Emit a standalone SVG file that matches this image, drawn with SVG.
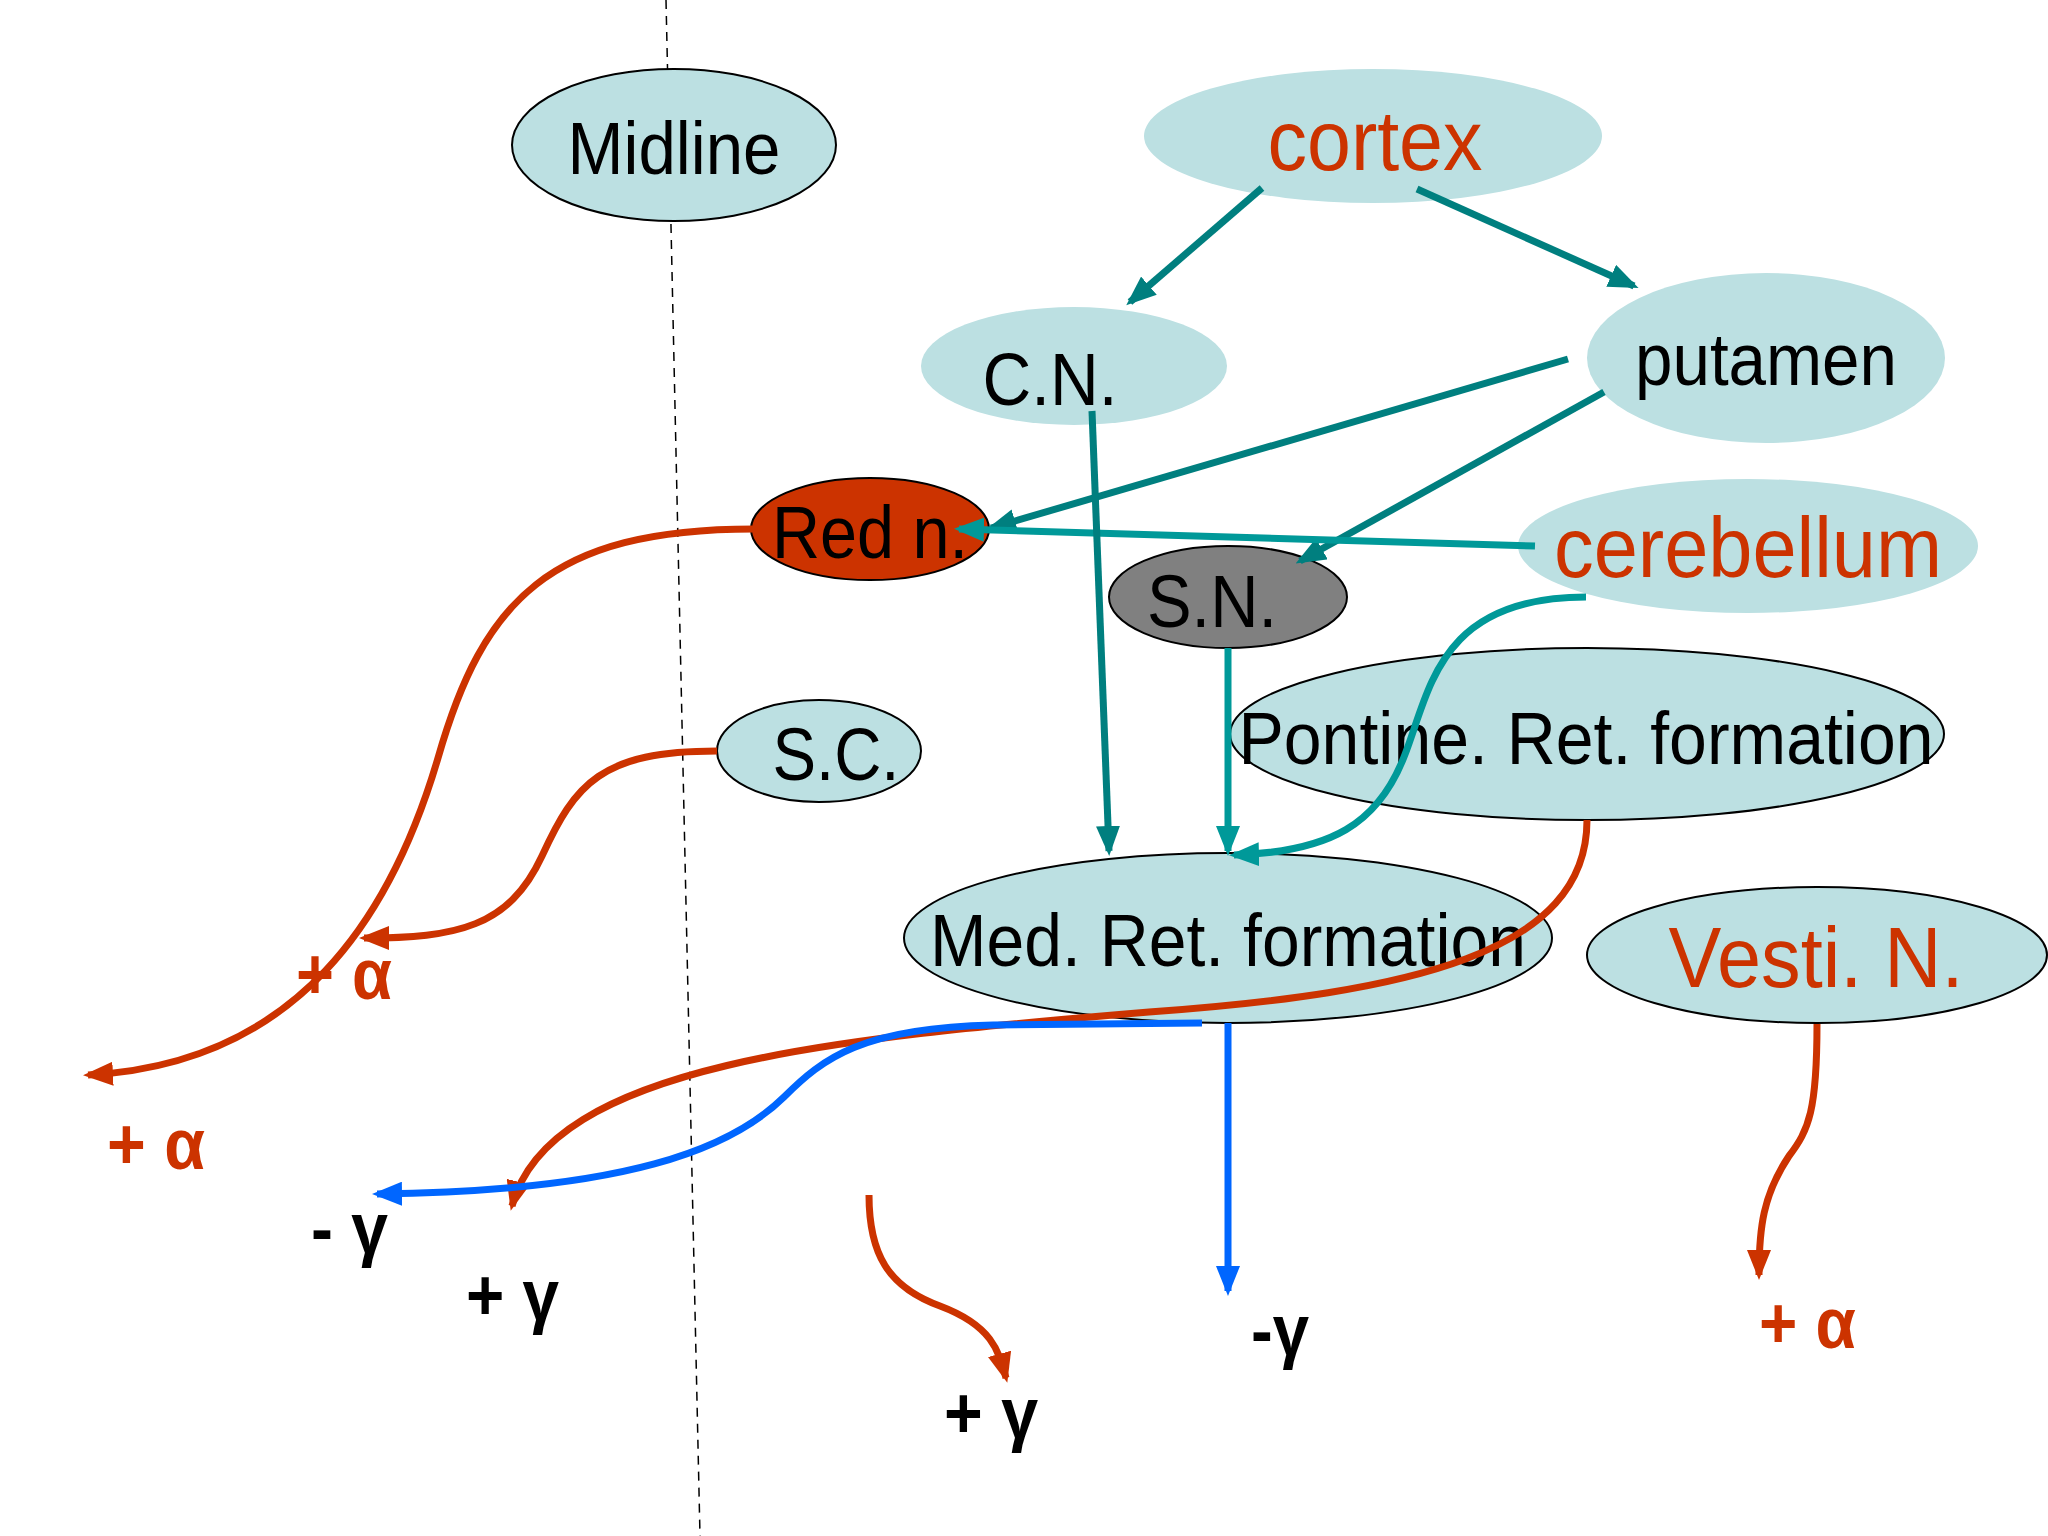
<svg xmlns="http://www.w3.org/2000/svg" width="2048" height="1536" viewBox="0 0 2048 1536">
<style>
.n{fill:#bce0e2}
.s{stroke:#000;stroke-width:2}
.t{font-family:"Liberation Sans",Arial,sans-serif;font-size:74px;fill:#000}
.tr{font-family:"Liberation Sans",Arial,sans-serif;font-size:86px;fill:#cc3300}
.lb{font-family:"Liberation Sans",Arial,sans-serif;font-size:72px;font-weight:bold}
.red{fill:#cc3300}
.blk{fill:#000}
.c{fill:none;stroke-width:7}
.dt{stroke:#007f7f}
.lt{stroke:#009999}
.rc{stroke:#cc3300}
.bc{stroke:#0066ff}
</style>
<defs>
<marker id="aDT" markerUnits="userSpaceOnUse" markerWidth="30" markerHeight="24" refX="25" refY="12" orient="auto"><path d="M0,0 L30,12 L0,24 z" fill="#007f7f"/></marker>
<marker id="aLT" markerUnits="userSpaceOnUse" markerWidth="30" markerHeight="24" refX="25" refY="12" orient="auto"><path d="M0,0 L30,12 L0,24 z" fill="#009999"/></marker>
<marker id="aR" markerUnits="userSpaceOnUse" markerWidth="30" markerHeight="24" refX="25" refY="12" orient="auto"><path d="M0,0 L30,12 L0,24 z" fill="#cc3300"/></marker>
<marker id="aB" markerUnits="userSpaceOnUse" markerWidth="30" markerHeight="24" refX="25" refY="12" orient="auto"><path d="M0,0 L30,12 L0,24 z" fill="#0066ff"/></marker>
</defs>
<rect width="2048" height="1536" fill="#fff"/>
<line x1="666" y1="0" x2="700" y2="1536" stroke="#000" stroke-width="1.5" stroke-dasharray="9,7"/>

<g id="midline"><ellipse class="n s" cx="674" cy="145" rx="162" ry="76"/><text class="t" x="674" y="174" text-anchor="middle" textLength="213" lengthAdjust="spacingAndGlyphs">Midline</text></g>
<g id="cortex"><ellipse class="n" cx="1373" cy="136" rx="229" ry="67"/><text class="tr" x="1375" y="170" text-anchor="middle" textLength="215" lengthAdjust="spacingAndGlyphs">cortex</text></g>
<g id="cn"><ellipse class="n" cx="1074" cy="366" rx="153" ry="59"/><text class="t" x="1050" y="405" text-anchor="middle" textLength="135" lengthAdjust="spacingAndGlyphs">C.N.</text></g>
<g id="putamen"><ellipse class="n" cx="1766" cy="358" rx="179" ry="85"/><text class="t" x="1766" y="385" text-anchor="middle" textLength="262" lengthAdjust="spacingAndGlyphs">putamen</text></g>
<g id="redn"><ellipse class="s" fill="#cc3300" cx="870" cy="529" rx="119" ry="51"/><text class="t" x="870" y="558" text-anchor="middle" textLength="196" lengthAdjust="spacingAndGlyphs">Red n.</text></g>
<g id="cerebellum"><ellipse class="n" cx="1748" cy="546" rx="230" ry="67"/><text class="tr" x="1748" y="577" text-anchor="middle" textLength="388" lengthAdjust="spacingAndGlyphs">cerebellum</text></g>
<g id="sn"><ellipse class="s" fill="#808080" cx="1228" cy="597" rx="119" ry="51"/><text class="t" x="1212" y="627" text-anchor="middle" textLength="130" lengthAdjust="spacingAndGlyphs">S.N.</text></g>
<g id="pontine"><ellipse class="n s" cx="1587" cy="734" rx="357" ry="86"/><text class="t" x="1586" y="764" text-anchor="middle" textLength="695" lengthAdjust="spacingAndGlyphs">Pontine. Ret. formation</text></g>
<g id="sc"><ellipse class="n s" cx="819" cy="751" rx="102" ry="51"/><text class="t" x="836" y="780" text-anchor="middle" textLength="127" lengthAdjust="spacingAndGlyphs">S.C.</text></g>
<g id="medret"><ellipse class="n s" cx="1228" cy="938" rx="324" ry="85"/><text class="t" x="1228" y="966" text-anchor="middle" textLength="596" lengthAdjust="spacingAndGlyphs">Med. Ret. formation</text></g>
<g id="vesti"><ellipse class="n s" cx="1817" cy="955" rx="230" ry="68"/><text class="tr" x="1816" y="987" text-anchor="middle" textLength="295" lengthAdjust="spacingAndGlyphs">Vesti. N.</text></g>

<g id="connectors">
<path class="c dt" d="M1262,188 L1130,302" marker-end="url(#aDT)"/>
<path class="c dt" d="M1417,189 L1634,286" marker-end="url(#aDT)"/>
<path class="c dt" d="M1568,359 L991,528" marker-end="url(#aDT)"/>
<path class="c dt" d="M1604,392 L1300,561" marker-end="url(#aDT)"/>
<path class="c lt" d="M1535,546 L959,529" marker-end="url(#aLT)"/>
<path class="c dt" d="M1092,411 L1109,851" marker-end="url(#aDT)"/>
<path class="c lt" d="M1228,648 L1228,851" marker-end="url(#aLT)"/>
<path class="c lt" d="M1586,597 C1437,597 1430,692 1404,757 C1378,823 1332,852 1234,855" marker-end="url(#aLT)"/>
<path class="c rc" d="M754,529 C549,529 483,601 438,758 C392,914 300,1064 88,1075" marker-end="url(#aR)"/>
<path class="c rc" d="M717,751 C601,751 575,784 542,856 C509,927 457,938 364,938" marker-end="url(#aR)"/>
<path class="c rc" d="M1587,820 C1587,953 1411,993 1149,1012 C836,1038 549,1064 512,1206" marker-end="url(#aR)"/>
<path class="c bc" d="M1202,1023 L993,1025 C862,1028 823,1058 784,1097 C731,1149 627,1191 377,1194" marker-end="url(#aB)"/>
<path class="c bc" d="M1228,1023 L1228,1291" marker-end="url(#aB)"/>
<path class="c rc" d="M1817,1024 C1817,1110 1809,1130 1789,1156 C1763,1195 1759,1228 1759,1275" marker-end="url(#aR)"/>
<path class="c rc" d="M869,1195 C869,1254 888,1287 940,1306 C993,1326 999,1352 1006,1378" marker-end="url(#aR)"/>
</g>

<g id="labels">
<text class="lb red" x="296" y="999" textLength="96" lengthAdjust="spacingAndGlyphs">+ α</text>
<text class="lb red" x="107" y="1169" textLength="98" lengthAdjust="spacingAndGlyphs">+ α</text>
<text class="lb blk" x="311" y="1253" textLength="77" lengthAdjust="spacingAndGlyphs">- γ</text>
<text class="lb blk" x="466" y="1320" textLength="93" lengthAdjust="spacingAndGlyphs">+ γ</text>
<text class="lb blk" x="944" y="1438" textLength="94" lengthAdjust="spacingAndGlyphs">+ γ</text>
<text class="lb blk" x="1251" y="1355" textLength="58" lengthAdjust="spacingAndGlyphs">-γ</text>
<text class="lb red" x="1759" y="1348" textLength="97" lengthAdjust="spacingAndGlyphs">+ α</text>
</g>
</svg>
